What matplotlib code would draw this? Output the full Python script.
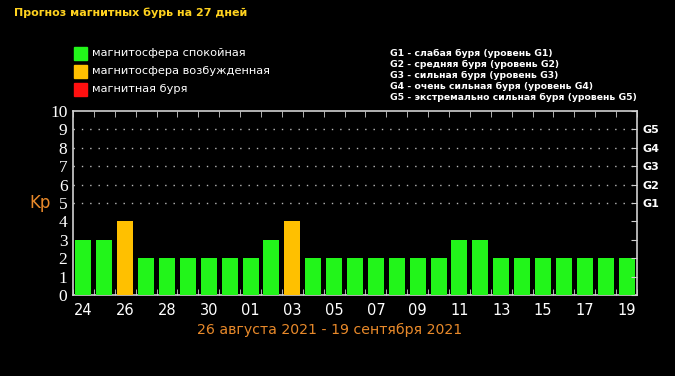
import matplotlib
matplotlib.use("Agg")
import matplotlib.pyplot as plt
import numpy as np

# Kp forecast, 24 Aug - 19 Sep 2021
days = ["24", "25", "26", "27", "28", "29", "30", "31",
        "01", "02", "03", "04", "05", "06", "07", "08", "09", "10",
        "11", "12", "13", "14", "15", "16", "17", "18", "19"]
kp = [3, 3, 4, 2, 2, 2, 2, 2, 2, 3, 4, 2, 2, 2, 2, 2, 2, 2,
      3, 3, 2, 2, 2, 2, 2, 2, 2]
g_levels = ["G1", "G2", "G3", "G4", "G5"]
g_descr = ["G1 - слабая буря (уровень G1)",
           "G2 - средняя буря (уровень G2)",
           "G3 - сильная буря (уровень G3)",
           "G4 - очень сильная буря (уровень G4)",
           "G5 - экстремально сильная буря (уровень G5)"]
legend_labels = ["магнитосфера спокойная", "магнитосфера возбужденная", "магнитная буря"]

GREEN = "#22f51a"
ORANGE = "#ffc000"
RED = "#ff1010"
legend_colors = [GREEN, ORANGE, RED]

def bar_color(v):
    if v >= 5:
        return RED
    if v >= 4:
        return ORANGE
    return GREEN

W, H = 675, 376
fig = plt.figure(figsize=(6.75, 3.76), dpi=100, facecolor="black")
ax = fig.add_axes([73 / W, 1 - 295 / H, 564 / W, 184 / H])
ax.set_facecolor("black")

x = np.arange(len(days))
ax.bar(x, kp, width=0.77, color=[bar_color(v) for v in kp], zorder=3)

ax.set_xlim(-0.5, len(days) - 0.5)
ax.set_ylim(0, 10)

for lvl in range(5, 10):
    ax.axhline(lvl, color="#bbbbbb", linestyle=(0, (1, 5)), linewidth=1, zorder=1)

for s in ax.spines.values():
    s.set_color("#d0d0d0")
    s.set_linewidth(1.2)

# x ticks: labels every 2 days, small inward ticks between bars top & bottom
ax.set_xticks(x[::2])
ax.set_xticklabels(days[::2], color="white", fontsize=10.5)
ax.set_xticks(np.arange(-0.5, len(days)), minor=True)
ax.tick_params(axis="x", which="major", length=0, pad=6)
ax.tick_params(axis="x", which="minor", direction="in", length=4, color="#d0d0d0",
               top=True, bottom=True)

ax.set_yticks(range(0, 11))
ax.set_yticklabels([str(i) for i in range(11)], color="white", fontsize=12.5,
                   fontfamily="Liberation Serif")
ax.tick_params(axis="y", which="major", length=0, pad=4)

ax2 = ax.twinx()
ax2.set_ylim(0, 10)
ax2.set_yticks(range(0, 11))
ax2.set_yticklabels([""] * 5 + g_levels + [""], color="white", fontsize=8,
                    fontweight="bold")
ax2.tick_params(axis="y", direction="in", length=4, color="#d0d0d0", pad=4)
for s in ax2.spines.values():
    s.set_visible(False)

fig.text(40 / W, 1 - 203 / H, "Kp", color="#e8892a", fontsize=12, ha="center", va="center")
fig.text(330 / W, 1 - 330 / H, "26 августа 2021 - 19 сентября 2021", color="#e8892a",
         fontsize=10.2, ha="center", va="center")

fig.text(14 / W, 1 - 13 / H, "Прогноз магнитных бурь на 27 дней", color="#ffd21f",
         fontsize=8, fontweight="bold", ha="left", va="center")

for i, (lab, col) in enumerate(zip(legend_labels, legend_colors)):
    yc = 53 + i * 18
    fig.patches.append(plt.Rectangle((74 / W, 1 - (yc + 6.5) / H), 13 / W, 13 / H,
                                     transform=fig.transFigure, color=col, figure=fig))
    fig.text(92 / W, 1 - yc / H, lab, color="white", fontsize=8.2, ha="left", va="center")

for i, t in enumerate(g_descr):
    fig.text(390 / W, 1 - (53 + i * 11) / H, t, color="white", fontsize=6.7,
             fontweight="bold", ha="left", va="center")

fig.savefig("out.png", dpi=100, facecolor="black")
